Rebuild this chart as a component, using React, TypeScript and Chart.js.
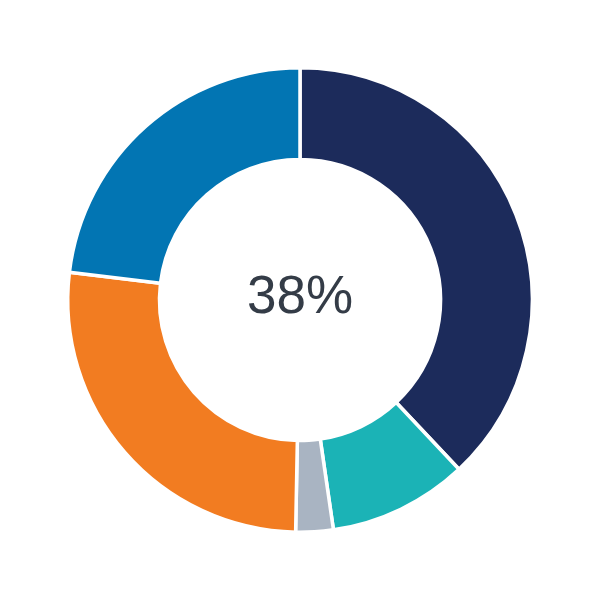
import React, { useEffect, useRef } from "react";
import { Chart, registerables } from "chart.js";

Chart.register(...registerables);

const categories = ["Navy", "Teal", "Gray", "Orange", "Blue"];
const values = [38, 9.7, 2.6, 26.6, 23.1];
const colors = ["#1c2b5b", "#1bb3b6", "#a9b4c2", "#f27c21", "#0275b3"];
const centerLabel = "38%";

const centerTextPlugin = {
  id: "centerText",
  afterDraw(chart: any) {
    const { ctx, chartArea } = chart;
    const cx = (chartArea.left + chartArea.right) / 2;
    const cy = (chartArea.top + chartArea.bottom) / 2;
    ctx.save();
    ctx.font = "53px 'Liberation Sans', Arial, sans-serif";
    ctx.fillStyle = "#343c47";
    ctx.textAlign = "center";
    ctx.textBaseline = "middle";
    ctx.fillText(centerLabel, cx, cy - 2);
    ctx.restore();
  },
};

export default function App() {
  const ref = useRef<HTMLCanvasElement | null>(null);
  useEffect(() => {
    if (!ref.current) return;
    const chart = new Chart(ref.current, {
      type: "doughnut",
      data: {
        labels: categories,
        datasets: [
          {
            data: values,
            backgroundColor: colors,
            borderColor: "#ffffff",
            borderWidth: 3.5,
            hoverOffset: 0,
          },
        ],
      },
      options: {
        responsive: false,
        animation: false,
        cutout: "60.5%",
        layout: { padding: 66 },
        plugins: {
          legend: { display: false },
          tooltip: { enabled: false },
        },
      },
      plugins: [centerTextPlugin],
    });
    return () => chart.destroy();
  }, []);
  return (
    <div style={{ position: "absolute", left: 0, top: 0, width: 600, height: 600, background: "#fff" }}>
      <canvas ref={ref} width={600} height={600} style={{ width: 600, height: 600 }} />
    </div>
  );
}
